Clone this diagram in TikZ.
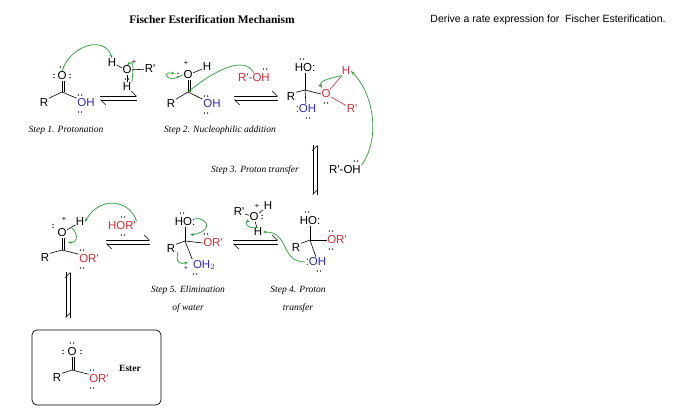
\documentclass[tikz,border=0pt]{standalone}
\usepackage{fontspec}
\setmainfont{Liberation Serif}
\newfontfamily\chemf{Liberation Sans}
\usetikzlibrary{arrows.meta}
\definecolor{gr}{RGB}{60,165,70}
\definecolor{rd}{RGB}{215,45,50}
\definecolor{bl}{RGB}{45,45,175}
\tikzset{
 lbl/.style={font=\chemf\fontsize{11.5}{12}\selectfont,inner sep=0.5pt},
 sm/.style={font=\chemf\fontsize{7.5}{7.5}\selectfont,inner sep=0pt},
 steplbl/.style={font=\itshape\fontsize{9.5}{10}\selectfont,inner sep=0pt,align=center},
 bond/.style={line width=0.6pt},
 garrow/.style={gr,line width=0.8pt,-{Stealth[length=4pt]}},
 eqtop/.style={line width=0.6pt,-{Straight Barb[left,length=5pt]}},
}
\newcommand\dph[1]{\fill (#1) ++(-1.6,0) circle(0.75pt) ++(3.2,0) circle(0.75pt);}
\newcommand\dpv[1]{\fill (#1) ++(0,-1.6) circle(0.75pt) ++(0,3.2) circle(0.75pt);}
\newcommand\eqh[3]{\draw[eqtop] (#1,#3) -- (#2,#3); \draw[eqtop] (#2,#3+4) -- (#1,#3+4);}
\newcommand\eqv[3]{\draw[eqtop] (#1,#2) -- (#1,#3); \draw[eqtop] (#1+4,#3) -- (#1+4,#2);}
\begin{document}
\begin{tikzpicture}[x=1pt,y=-1pt]
\useasboundingbox (0,0) rectangle (700,412);
\fill[white] (0,0) rectangle (700,412);
\node[font=\bfseries\fontsize{11.5}{12}\selectfont] (title) at (212,20) {Fischer Esterification Mechanism};
\node[font=\chemf\fontsize{10.5}{12}\selectfont] (q) at (548,20) {Derive a rate expression for\ \ Fischer Esterification.};

% ---- molecule 1
\coordinate (c1) at (62,92);
\node[lbl] (o1) at (62,76) {O};
\node[lbl] (r1) at (44,103) {R};
\node[lbl,bl] (oh1) at (86,103) {OH};
\draw[bond] (c1) -- (o1.south); \draw[bond] ([xshift=2.5]c1) -- ([xshift=2.5]o1.south);
\draw[bond] (c1) -- (r1.north east); \draw[bond] (c1) -- (oh1.north west);
\dph{62,67} \dpv{54,76} \dpv{70,76} \dph{80,95} \dph{80,112}
% hydronium
\node[lbl] (o2) at (127,70) {O};
\node[lbl] (h2a) at (112,63) {H};
\node[lbl] (h2b) at (127,87) {H};
\node[lbl] (r2) at (150,69) {R'};
\node[sm] (p2) at (134,62) {+};
\draw[bond] (h2a) -- (o2); \draw[bond] (o2) -- (h2b); \draw[bond] (o2) -- (r2);
\dph{127,79}
\draw[garrow] (o1.north) .. controls (70,45) and (105,35) .. (h2a.north);
\draw[garrow] (h2b.north east) .. controls (134,64) and (133,60) .. (o2.north);
\eqh{100}{137}{96}
\node[steplbl] (s1) at (66,130) {Step 1. Protonation};

% ---- molecule 2
\coordinate (c3) at (188,92);
\node[lbl] (o3) at (188,75) {O};
\node[lbl] (h3) at (207,67) {H};
\node[sm] (p3) at (186,63) {+};
\node[lbl] (r3) at (171,104) {R};
\node[lbl,bl] (oh3) at (212,104) {OH};
\draw[bond] (c3) -- (o3.south); \draw[bond] ([xshift=2.5]c3) -- ([xshift=2.5]o3.south);
\draw[bond] (c3) -- (r3.north east); \draw[bond] (c3) -- (oh3.north west);
\draw[bond] (o3) -- (h3);
\dpv{178,75} \dph{206,96} \dph{206,113}
\node[lbl,rd] (roh) at (254,78) {R'-OH};
\dph{265,69}
\draw[garrow] (o3.west) .. controls (165,85) and (162,70) .. (175,74);
\draw[garrow] (roh.north) .. controls (245,55) and (215,70) .. (c3);
\eqh{234}{278}{96}
\node[steplbl] (s2) at (220,130) {Step 2. Nucleophilic addition};

% ---- molecule 3
\coordinate (c5) at (305,90);
\node[lbl] (ho5) at (305,68) {HO:};
\node[lbl] (r5) at (291,97) {R};
\node[lbl,bl] (oh5) at (306,109) {:OH};
\node[lbl,rd] (o5) at (326,94) {O};
\node[sm,rd] (p5) at (320,86) {+};
\node[lbl,rd] (h5) at (346,71) {H};
\node[lbl,rd] (rr5) at (352,109) {R'};
\draw[bond] (c5) -- (ho5.south); \draw[bond] (c5) -- (r5.north east);
\draw[bond] (c5) -- (oh5.north); \draw[bond] (c5) -- (o5.west);
\draw[bond,rd] (o5) -- (h5); \draw[bond,rd] (o5) -- (rr5);
\dph{302,59} \dph{308,118} \dph{326,103}
\draw[garrow] (h5.south west) .. controls (333,78) and (318,80) .. (322,88);
\node[steplbl] (s3) at (255,170) {Step 3. Proton transfer};
\eqv{313}{145}{195}
\node[lbl] (roh3) at (345,170) {R'-OH};
\dph{356,161}
\draw[garrow] (roh3.north east) .. controls (380,140) and (375,95) .. (h5.east);

% ---- molecule 4
\coordinate (c7) at (310,240);
\node[lbl] (ho7) at (310,221) {HO:};
\node[lbl] (r7) at (296,248) {R};
\node[lbl,rd] (or7) at (337,240) {OR'};
\node[lbl,bl] (oh7) at (316,262) {:OH};
\draw[bond] (c7) -- (ho7.south); \draw[bond] (c7) -- (r7.north east);
\draw[bond] (c7) -- (or7.west); \draw[bond] (c7) -- (oh7.north);
\dph{307,212} \dph{331,231} \dph{331,249} \dph{319,271}
\node[lbl] (ro8) at (239,212) {R'};
\node[lbl] (o8) at (254,217) {O};
\node[lbl] (h8a) at (268,206) {H};
\node[sm] (p8) at (257,206) {+};
\node[lbl] (h8b) at (258,232) {H};
\draw[bond] (ro8) -- (o8); \draw[bond] (o8) -- (h8a); \draw[bond] (o8) -- (h8b);
\dpv{262,217}
\draw[garrow] (oh7.west) .. controls (280,262) and (290,232) .. (h8b.east);
\draw[garrow] (h8b.north) .. controls (245,230) and (245,220) .. (250,222);
\eqh{233}{278}{240}
\node[steplbl] (s4) at (298,290) {Step 4. Proton};
\node[steplbl] (s4b) at (298,308) {transfer};

% ---- molecule 5
\coordinate (c9) at (185,241);
\node[lbl] (ho9) at (185,222) {HO:};
\node[lbl] (r9) at (171,249) {R};
\node[lbl,rd] (or9) at (213,243) {OR'};
\node[lbl,bl] (oh9) at (204,265) {OH$_2$};
\node[sm,bl] (p9) at (186,268) {+};
\draw[bond] (c9) -- (ho9.south); \draw[bond] (c9) -- (r9.north east);
\draw[bond] (c9) -- (or9.west); \draw[bond] (c9) -- (oh9.north west);
\dph{182,213} \dph{206,234} \dph{195,274}
\draw[garrow] (195,218) .. controls (212,220) and (210,232) .. (190,235);
\draw[garrow] (178,252) .. controls (175,262) and (180,265) .. (188,262);
\eqh{106}{150}{240}
\node[steplbl] (s5) at (188,290) {Step 5. Elimination};
\node[steplbl] (s5b) at (188,308) {of water};
\node[lbl,rd] (hor) at (122,226) {HOR'};
\dph{123,217} \dph{123,235}

% ---- molecule 6
\coordinate (c10) at (62,250);
\node[lbl] (o10) at (62,233) {O};
\node[lbl] (h10) at (80,222) {H};
\node[sm] (p10) at (64,219) {+};
\node[lbl] (r10) at (45,258) {R};
\node[lbl,rd] (or10) at (89,259) {OR'};
\draw[bond] (c10) -- (o10.south); \draw[bond] ([xshift=2.5]c10) -- ([xshift=2.5]o10.south);
\draw[bond] (c10) -- (r10.north east); \draw[bond] (c10) -- (or10.north west);
\draw[bond] (o10) -- (h10);
\dpv{53,226} \dph{82,250} \dph{82,268}
\draw[garrow] (hor.north east) .. controls (130,200) and (100,195) .. (h10.east);
\draw[garrow] (72,228) .. controls (80,236) and (76,244) .. (68,242);
\eqv{66}{272}{318}

% ---- ester box
\draw[rounded corners=5pt,line width=0.7pt] (32,330) rectangle (161,405);
\coordinate (c11) at (72,370);
\node[lbl] (o11) at (72,352) {O};
\node[lbl] (r11) at (57,378) {R};
\node[lbl,rd] (or11) at (99,379) {OR'};
\draw[bond] (c11) -- (o11.south); \draw[bond] ([xshift=2.5]c11) -- ([xshift=2.5]o11.south);
\draw[bond] (c11) -- (r11.north east); \draw[bond] (c11) -- (or11.north west);
\dph{72,343} \dpv{63,352} \dpv{81,352} \dph{92,370} \dph{92,388}
\node[font=\bfseries\fontsize{9.5}{10}\selectfont] (ester) at (130,368) {Ester};
\end{tikzpicture}
\end{document}
